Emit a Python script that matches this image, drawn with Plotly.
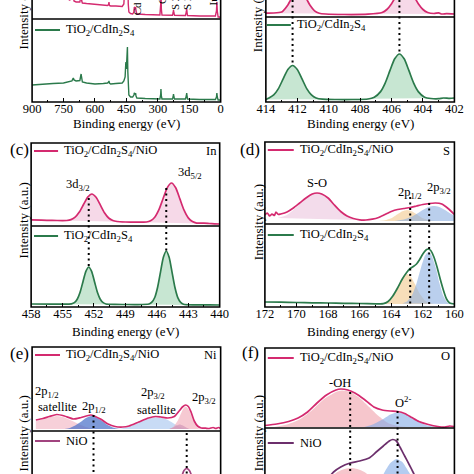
import plotly.graph_objects as go

W = H = 474
FONT = "Liberation Serif"
PINK = "#d42a6f"
GREEN = "#2b7a4b"
NIO_E = "#a1447f"
NIO_F = "#6c2f6c"

# ---------------- (a) survey ----------------
a_energy = [900, 850, 800, 750, 720, 710, 706, 703, 700, 690, 672, 668, 666, 663, 660, 640, 600, 560, 540, 535,
            533, 531, 525, 500, 480, 470, 462, 456, 453, 452, 450, 447, 445, 443, 441, 438, 430, 420, 414, 412,
            408, 406, 404, 400, 360, 300, 290, 286, 285, 283, 280, 240, 230, 227, 225, 223, 220, 180, 168, 164,
            162, 160, 158, 100, 50, 25, 20, 18, 16, 12, 5, 0]
a_binary = [17, 18, 18.5, 19, 20, 21, 23, 24, 22, 21, 21.5, 26, 28, 24, 20, 19, 18, 18.5, 19, 20,
            21, 19, 18, 18.5, 18.5, 19, 21, 25, 38, 40, 33, 42, 55, 30, 12, 7, 5, 5, 7, 9,
            8, 9, 6, 4, 3.5, 3, 3, 8, 13, 6, 3, 3, 3, 5, 8, 5, 3, 3, 3, 6,
            9, 5, 3, 2.5, 2.5, 2.5, 5, 9, 5, 2, 2, 2]
a_ternary = [30, 27, 24, 22, 19, 21, 23, 24, 18, 17, 17, 21, 24, 18, 16, 15.5, 15, 14, 13.5, 14.5,
             17, 13.5, 13, 13, 12.5, 12.5, 15, 25, 55, 60, 50, 70, 80, 40, 15, 7, 5.5, 5, 7, 12,
             11, 12, 8, 5, 4.5, 4, 4, 15, 30, 10, 4, 4, 3.8, 6, 9, 6, 3.8, 3.5, 3.5, 7,
             10, 6, 3.5, 3, 3, 3, 8, 17, 8, 2, 2, 1.5]
a_label_text = ["Cd 3d", "C 1s", "S 2s", "S 2p", "In 4d"]
a_label_E = [400, 280, 220, 161, 37]
a_label_bottom = [17, 6, 12, 12, 7]

# ---------------- (b) Cd 3d ----------------
b_E_t = [414.0, 413.5, 413.0, 412.9, 412.6, 412.3, 411.9, 411.5, 411.2, 410.9, 410.6, 410.2, 409.0, 407.5, 406.6,
         406.3, 406.0, 405.7, 405.4, 405.15, 404.9, 404.6, 404.3, 404.0, 403.7, 403.3, 403.0, 402.8, 402.5, 402.0]
b_ternary = [3.8, 4.0, 5.0, 6.2, 12.0, 20.4, 27.0, 20.4, 12.0, 6.2, 3.8, 3.0, 2.5, 2.8, 4.5,
             7.5, 13.3, 21.4, 28.7, 31.0, 28.7, 21.4, 13.3, 7.5, 4.5, 3.5, 4.2, 3.0, 3.4, 3.0]
b_E_b = [414.0, 413.8, 413.5, 413.2, 412.9, 412.6, 412.3, 412.0, 411.7, 411.4, 411.1, 410.8, 410.4, 409.5, 408.5, 407.5,
         407.1, 406.7, 406.4, 406.1, 405.8, 405.5, 405.2, 404.9, 404.6, 404.3, 403.9, 403.5, 403.0, 402.7, 402.3, 402.0]
b_binary = [2.5, 4.0, 7.1, 13.4, 23.1, 32.5, 36.5, 32.5, 23.1, 13.4, 7.1, 4.0, 2.8, 2.5, 2.5, 3.0,
            4.8, 10.4, 19.2, 31.6, 43.2, 48.0, 43.2, 31.6, 19.2, 10.4, 4.8, 3.5, 3.3, 4.0, 3.6, 4.0]
b_peak_E = [412.3, 405.5]

# ---------------- (c) In 3d ----------------
c_E_t = [458.0, 457.0, 456.0, 455.0, 454.6, 454.2, 453.8, 453.4, 453.0, 452.6, 452.2, 451.8, 451.4, 451.0, 450.6,
         450.2, 449.8, 449.0, 448.0, 447.0, 446.6, 446.2, 445.8, 445.4, 445.0, 444.6, 444.2, 443.8, 443.4, 443.0,
         442.6, 442.2, 441.5, 441.0, 440.5, 440.0]
c_ternary = [6.2, 5.8, 5.6, 5.4, 5.5, 6.4, 8.8, 13.9, 21.5, 28.9, 32.0, 28.7, 21.1, 13.3, 8.0,
             5.5, 4.5, 4.0, 3.8, 4.0, 5.3, 8.8, 16.3, 27.5, 38.4, 43.0, 38.2, 27.1, 15.8, 8.1,
             4.4, 2.9, 2.8, 2.5, 2.2, 2.0]
c_E_b = [458.0, 456.0, 455.0, 454.15, 453.875, 453.6, 453.325, 453.05, 452.775, 452.5, 452.225, 451.95, 451.675,
         451.4, 451.125, 450.85, 450.0, 449.0, 448.0, 446.75, 446.475, 446.2, 445.925, 445.65, 445.375, 445.1,
         444.825, 444.55, 444.275, 444.0, 443.725, 443.45, 442.5, 441.0, 440.0]
c_binary = [3.0, 2.9, 2.85, 3.2, 4.4, 7.8, 14.8, 25.3, 35.6, 40.0, 35.6, 25.3, 14.8,
            7.8, 4.3, 3.0, 2.55, 2.5, 2.45, 3.0, 4.8, 9.5, 19.8, 34.9, 49.7, 56.0,
            49.7, 34.9, 19.7, 9.4, 4.6, 2.8, 2.1, 2.05, 2.0]
c_peak_E = [452.5, 445.1]

# ---------------- (d) S 2p ----------------
d_E_t = [172.0, 171.85, 171.7, 171.55, 171.4, 171.3, 171.15, 171.0, 170.6, 170.2, 169.8, 169.4, 169.0, 168.7,
         168.4, 168.0, 167.6, 167.2, 166.8, 166.4, 166.0, 165.6, 165.2, 164.8, 164.4, 164.0, 163.6, 163.2,
         162.8, 162.4, 162.0, 161.6, 161.2, 160.8, 160.4, 160.0]
d_ternary = [9, 11, 8, 10, 8.5, 12, 9.5, 10, 12, 16, 21, 26, 30, 31,
             30, 26, 19, 12.5, 8, 5.5, 4.2, 4.0, 4.8, 6.5, 9.5, 12.5, 14.5, 15.5,
             16.5, 18, 19.5, 20.5, 21, 20, 15.5, 9.5]
d_so_E = [171.2, 170.6, 170.2, 169.8, 169.4, 169.0, 168.7, 168.4, 168.0, 167.6, 167.2, 166.8, 166.4, 166.0]
d_so = [6, 9, 14, 20, 26, 30, 31, 30, 25.5, 18.5, 12, 7.5, 5, 4]
d_t_p12_E = [164.8, 164.4, 164.0, 163.6, 163.3, 163.0, 162.7, 162.4, 162.0, 161.6, 161.2]
d_t_p12 = [3, 3.7, 5.7, 9.7, 12.7, 14, 12.7, 9.7, 5.7, 3.7, 3]
d_t_p32_E = [163.8, 163.6, 163.2, 162.8, 162.4, 162.0, 161.6, 161.3, 161.0, 160.6, 160.2, 160.0, 160.0]
d_t_p32 = [3, 3.6, 4.6, 6.7, 10.1, 14.1, 17.2, 18, 17.2, 14.1, 10.1, 8.3, 3]
d_E_b = [172.0, 171.0, 170.0, 169.0, 168.0, 167.0, 166.0, 165.0, 164.5, 164.2, 163.9, 163.6, 163.3, 163.0, 162.8,
         162.6, 162.4, 162.2, 162.0, 161.8, 161.65, 161.5, 161.3, 161.1, 160.9, 160.7, 160.5, 160.3, 160.0]
d_binary = [5.0, 4.8, 4.5, 4.2, 4.0, 3.7, 3.5, 3.2, 3.3, 5.5, 11, 19, 28, 35, 38.5,
            40.5, 43, 47.5, 53, 57, 58, 56.5, 50, 40, 28, 17, 8, 4, 3]
d_b_p12_E = [164.7, 164.4, 164.1, 163.8, 163.5, 163.25, 163.0, 162.75, 162.5, 162.2, 161.9, 161.6, 161.3]
d_b_p12 = [3, 4.2, 7.1, 13.4, 22.9, 30.1, 33, 30.1, 22.9, 13.4, 7.1, 4.2, 3]
d_b_p32_E = [163.3, 163.0, 162.7, 162.4, 162.1, 161.85, 161.65, 161.45, 161.2, 160.95, 160.7, 160.45, 160.2]
d_b_p32 = [3.6, 5.6, 11.4, 23.5, 40.2, 51.7, 55, 51.7, 40.2, 24, 11, 4.5, 3]
d_peak_E = [162.8, 161.6]

# ---------------- (e) Ni 2p ----------------
e_E_t = [884.3, 883.0, 881.8, 880.4, 879.0, 877.3, 875.9, 874.1, 872.3, 870.9, 869.6, 868.2, 867.0, 865.2, 863.4,
         862.1, 861.1, 859.8, 858.6, 857.7, 857.1, 856.5, 856.0, 855.5, 854.9, 854.3, 853.6, 852.8, 852.1, 851.4,
         850.9, 850.4, 850.0]
e_ternary = [11, 12.5, 14.5, 16.5, 15, 12, 13.5, 16, 12, 7, 4.5, 4, 5, 9, 13,
             14.5, 14, 13, 14.5, 20, 24, 26, 24.5, 19, 10, 5, 3, 2.8, 2.5, 3.5,
             2.5, 3.5, 2.5]
e_sat12_E = [884.3, 883.0, 881.8, 880.4, 879.0, 877.5, 876.2, 875.0, 874.0, 872.0, 884.3]
e_sat12 = [10, 11.5, 13.5, 15, 13.5, 10, 6.5, 4, 2.5, 2, 2]
e_p12_E = [879, 878, 877, 876, 875, 874, 873, 872, 871, 870, 869, 868]
e_p12 = [2, 3, 5.5, 9, 13, 15, 13.5, 10, 6, 3.5, 2.2, 2]
e_sat32_E = [869, 867.5, 866, 864.5, 863, 862, 861, 860, 859, 858, 857, 856]
e_sat32 = [2, 3.5, 6.5, 10.5, 13, 13.5, 13, 11.5, 8.5, 5, 3, 2]
e_mid_E = [859.5, 858.8, 858.2, 857.6, 857.0, 856.4, 855.8]
e_mid = [2, 3.5, 5.5, 6.5, 5.5, 3.5, 2]
e_p32_E = [859.5, 858.8, 858.0, 857.4, 856.9, 856.5, 856.0, 855.5, 855.0, 854.5, 854.0, 853.5]
e_p32 = [2, 4, 10, 17, 22.5, 24.5, 22, 16.5, 9.5, 4.5, 2.5, 2]
e_nio_E = [885, 880, 875, 870, 862, 859, 857.8, 857.2, 856.8, 856.3, 855.8, 855.3, 854.6, 852, 850]
e_nio = [8, 16, 13, 4, 10, 8, 26, 36, 41.5, 43.5, 41.5, 35, 24, 6, 4]
e_peak_E = [873.6, 856.3]

# ---------------- (f) O 1s ----------------
f_E_t = [535.0, 534.5, 534.0, 533.6, 533.2, 532.8, 532.4, 532.0, 531.8, 531.5, 531.2, 530.8, 530.4, 530.05,
         529.7, 529.4, 529.1, 528.8, 528.5, 528.1, 527.7, 527.4, 527.2, 527.0]
f_ternary = [2.5, 4, 6.5, 10, 16, 25, 33, 38, 39, 38, 35, 28.5, 21, 18,
             17, 16.5, 14.5, 10.5, 6.5, 3.5, 1.5, 1, 2, 1.5]
f_oh_E = [534.6, 534.0, 533.5, 533.0, 532.5, 532.0, 531.75, 531.4, 531.0, 530.6, 530.2, 529.8, 529.4, 529.0]
f_oh = [1, 4, 9, 18, 29, 36, 37.5, 36, 30, 21, 12, 5, 2, 1]
f_o2_E = [530.8, 530.4, 530.0, 529.7, 529.4, 529.1, 528.8, 528.5, 528.2, 527.9, 527.6]
f_o2 = [1, 4, 9, 13.5, 15.5, 14, 10, 6, 3, 1.5, 1]
f_nio_E = [535, 533.5, 532.6, 532.3, 532.1, 531.8, 531.4, 531.0, 530.6, 530.3, 530.0, 529.75, 529.6, 529.45,
           529.3, 529.1, 528.9, 528.75, 528.6, 528.2, 527.5, 527]
f_nio = [2, 13, 30, 35, 40, 45, 49, 51, 54, 60, 66, 71, 72.5, 71,
         65, 56, 47, 40, 33, 20, 8, 3]
f_nio_oh_E = [533.5, 533.0, 532.5, 532.0, 531.7, 531.4, 531.1, 530.8, 530.4, 530.0, 529.5]
f_nio_oh = [5, 12, 26, 39, 42.5, 44, 43, 40, 32, 18, 6]
f_nio_o2_E = [531.0, 530.5, 530.1, 529.9, 529.7, 529.45, 529.2, 529.0, 528.8, 528.4, 528.0]
f_nio_o2 = [5, 18, 33, 42, 49, 53, 50, 43, 35, 18, 6]
f_peak_E = [531.4, 529.4]

TERNARY = "TiO<sub>2</sub>/CdIn<sub>2</sub>S<sub>4</sub>/NiO"
BINARY = "TiO<sub>2</sub>/CdIn<sub>2</sub>S<sub>4</sub>"


def PX(px):
    return px / W


def PY(py):
    return 1 - py / H


panels = [
    dict(left=24, right=220, top=-61, div=19, bot=102, xr=[900, 0], dtick=150, minor=75, ticks=True),
    dict(left=267, right=463, top=-63, div=17, bot=102, xr=[414, 402], dtick=2, minor=1, ticks=True),
    dict(left=23, right=219, top=143, div=226, bot=307, xr=[458, 440], dtick=3, minor=1.5, ticks=True),
    dict(left=266, right=463, top=142, div=224, bot=307, xr=[172, 160], dtick=2, minor=1, ticks=True),
    dict(left=24, right=220, top=347, div=431, bot=512, xr=[885, 850], dtick=5, minor=None, ticks=False),
    dict(left=266, right=463, top=348, div=428, bot=512, xr=[535, 527], dtick=1, minor=None, ticks=False),
]

fig = go.Figure()
layout = {}
shapes = []
annotations = []


def axname(n, kind):
    return kind + ("" if n == 1 else str(n))


for i, p in enumerate(panels):
    nt, nb = 2 * i + 1, 2 * i + 2
    xd = [PX(p["left"]), PX(p["right"])]
    top_vis = max(p["top"], 0)
    bot_vis = min(p["bot"], H)
    base_x = dict(domain=xd, range=p["xr"], showgrid=False, zeroline=False, showline=False)
    layout[axname(nt, "xaxis")] = dict(base_x, anchor=axname(nt, "y"), showticklabels=False, ticks="")
    bx = dict(base_x, anchor=axname(nb, "y"), showticklabels=p["ticks"], dtick=p["dtick"], tick0=p["xr"][0],
              ticks="inside" if p["ticks"] else "", ticklen=4, tickwidth=1.3, tickcolor="black",
              ticklabelstandoff=-3,
              tickfont=dict(family=FONT, size=12.5, color="black"))
    if p["minor"]:
        bx["minor"] = dict(ticks="inside", ticklen=2.5, tickwidth=1, tickcolor="black", dtick=p["minor"],
                           tick0=p["xr"][0])
    layout[axname(nb, "xaxis")] = bx
    layout[axname(nt, "yaxis")] = dict(domain=[PY(p["div"]), PY(top_vis)], range=[0, p["div"] - top_vis],
                                       anchor=axname(nt, "x"), visible=False)
    layout[axname(nb, "yaxis")] = dict(domain=[PY(bot_vis), PY(p["div"])],
                                       range=[p["bot"] - bot_vis, p["bot"] - p["div"]],
                                       anchor=axname(nb, "x"), visible=False)
    shapes.append(dict(type="rect", xref="paper", yref="paper", x0=PX(p["left"]), x1=PX(p["right"]),
                       y0=PY(p["bot"]), y1=PY(p["top"]), line=dict(color="black", width=1.6)))
    shapes.append(dict(type="line", xref="paper", yref="paper", x0=PX(p["left"]), x1=PX(p["right"]),
                       y0=PY(p["div"]), y1=PY(p["div"]), line=dict(color="black", width=1.6)))


def ref(n):
    return dict(xaxis=axname(n, "x"), yaxis=axname(n, "y"))


def area(n, x, y, color):
    fig.add_trace(go.Scatter(x=x, y=y, mode="lines", fill="toself", fillcolor=color,
                             line=dict(width=0, shape="spline", smoothing=0.6), hoverinfo="skip",
                             showlegend=False, **ref(n)))


def curve(n, x, y, color, shape="spline", width=1.7):
    fig.add_trace(go.Scatter(x=x, y=y, mode="lines", line=dict(color=color, width=width, shape=shape,
                                                                 smoothing=0.6),
                             showlegend=False, **ref(n)))


# (a)
curve(1, a_energy, a_ternary, PINK, shape="linear", width=1.4)
curve(2, a_energy, a_binary, GREEN, shape="linear", width=1.4)
# (b)
area(3, b_E_t, b_ternary, "rgba(236,170,205,0.45)")
curve(3, b_E_t, b_ternary, PINK)
area(4, b_E_b, b_binary, "rgba(130,200,155,0.45)")
curve(4, b_E_b, b_binary, GREEN)
# (c)
area(5, c_E_t, c_ternary, "rgba(236,170,205,0.45)")
curve(5, c_E_t, c_ternary, PINK)
area(6, c_E_b, c_binary, "rgba(130,200,155,0.45)")
curve(6, c_E_b, c_binary, GREEN)
# (d)
area(7, d_so_E, d_so, "rgba(232,185,215,0.5)")
area(7, d_t_p12_E, d_t_p12, "rgba(240,195,130,0.55)")
area(7, d_t_p32_E, d_t_p32, "rgba(140,175,225,0.6)")
curve(7, d_E_t, d_ternary, PINK)
area(8, d_b_p12_E, d_b_p12, "rgba(240,195,130,0.55)")
area(8, d_b_p32_E, d_b_p32, "rgba(140,175,225,0.6)")
curve(8, d_E_b, d_binary, GREEN)
# (e)
area(9, e_sat12_E, e_sat12, "rgba(240,170,185,0.55)")
area(9, e_p12_E, e_p12, "rgba(70,110,200,0.7)")
area(9, e_sat32_E, e_sat32, "rgba(170,200,240,0.65)")
area(9, e_mid_E, e_mid, "rgba(150,110,180,0.6)")
area(9, e_p32_E, e_p32, "rgba(240,165,180,0.6)")
curve(9, e_E_t, e_ternary, PINK)
curve(10, e_nio_E, e_nio, NIO_E)
# (f)
area(11, f_oh_E, f_oh, "rgba(240,160,170,0.6)")
area(11, f_o2_E, f_o2, "rgba(130,170,230,0.6)")
curve(11, f_E_t, f_ternary, PINK)
area(12, f_nio_oh_E, f_nio_oh, "rgba(240,160,170,0.6)")
area(12, f_nio_o2_E, f_nio_o2, "rgba(130,170,230,0.6)")
curve(12, f_nio_E, f_nio, NIO_F)

# dotted guide lines at peak positions
dot_specs = [
    (4, b_peak_E, [(0, 66), (0, 54)]),
    (6, c_peak_E, [(198, 267), (188, 251)]),
    (8, d_peak_E, [(197, 305), (203, 305)]),
    (10, e_peak_E, [(415, 480), (433, 480)]),
    (12, f_peak_E, [(392, 480), (411, 480)]),
]
for n, energies, spans in dot_specs:
    for E, (y0, y1) in zip(energies, spans):
        shapes.append(dict(type="line", xref=axname(n, "x"), yref="paper", x0=E, x1=E,
                           y0=PY(y0), y1=PY(y1), line=dict(color="black", width=2, dash="2px,3.5px")))


def text(x, y, t, size=12.5, xanchor="center", yanchor="middle", angle=0, color="black"):
    annotations.append(dict(x=PX(x), y=PY(y), xref="paper", yref="paper", text=t, showarrow=False,
                            xanchor=xanchor, yanchor=yanchor, textangle=angle,
                            font=dict(family=FONT, size=size, color=color)))


legend_specs = [
    (27, 53, 30, BINARY, GREEN),
    (268, 293, 25, BINARY, GREEN),
    (26, 51, 151, TERNARY, PINK),
    (26, 51, 236, BINARY, GREEN),
    (269, 296, 150, TERNARY, PINK),
    (269, 296, 235, BINARY, GREEN),
    (27, 53, 355, TERNARY, PINK),
    (27, 53, 441, "NiO", NIO_E),
    (269, 296, 358, TERNARY, PINK),
    (269, 296, 443, "NiO", NIO_F),
]
for x0, x1, y, t, col in legend_specs:
    shapes.append(dict(type="line", xref="paper", yref="paper", x0=PX(x0), x1=PX(x1), y0=PY(y), y1=PY(y),
                       line=dict(color=col, width=2)))
    text(x1 + 4, y, t, size=12.5, xanchor="left")

for x, y, t in [(11, 149, "(c)"), (251, 149, "(d)"), (11, 353, "(e)"), (251, 352, "(f)")]:
    text(x, y, t, size=17)
for x, y, t in [(218, 151, "In"), (460, 151, "S"), (218, 355, "Ni"), (460, 356, "O")]:
    text(x, y, t, size=12.5, xanchor="right")

for x, y in [(15, 11), (259, 14), (15, 220), (259, 222), (15, 433), (259, 433)]:
    text(x, y, "Intensity (a.u.)", size=13, angle=-90)
for x, y in [(122, 123), (365, 123), (121, 331), (365, 331)]:
    text(x, y, "Binding energy (eV)", size=13)

for t, E, yb in zip(a_label_text, a_label_E, a_label_bottom):
    annotations.append(dict(x=E, y=PY(yb), xref="x", yref="paper", text=t, showarrow=False, textangle=-90,
                            xanchor="center", yanchor="bottom", font=dict(family=FONT, size=11, color="black")))

for x, y, t in [(72, 185, "3d<sub>3/2</sub>"), (188, 173, "3d<sub>5/2</sub>"),
                (320, 183, "S-O"), (417, 193, "2p<sub>1/2</sub>"), (447, 188, "2p<sub>3/2</sub>"),
                (40, 392, "2p<sub>1/2</sub>"), (50, 407, "satellite"), (88, 407, "2p<sub>1/2</sub>"),
                (150, 393, "2p<sub>3/2</sub>"), (153, 410, "satellite"), (203, 398, "2p<sub>3/2</sub>"),
                (344, 383, "-OH"), (410, 402, "O<sup>2-</sup>")]:
    text(x, y, t, size=12.5)

layout.update(dict(width=W, height=H, margin=dict(l=0, r=0, t=0, b=0), paper_bgcolor="white",
                   plot_bgcolor="rgba(0,0,0,0)", showlegend=False, shapes=shapes, annotations=annotations,
                   font=dict(family=FONT, color="black")))
fig.update_layout(**layout)
fig.write_html("out.html")
